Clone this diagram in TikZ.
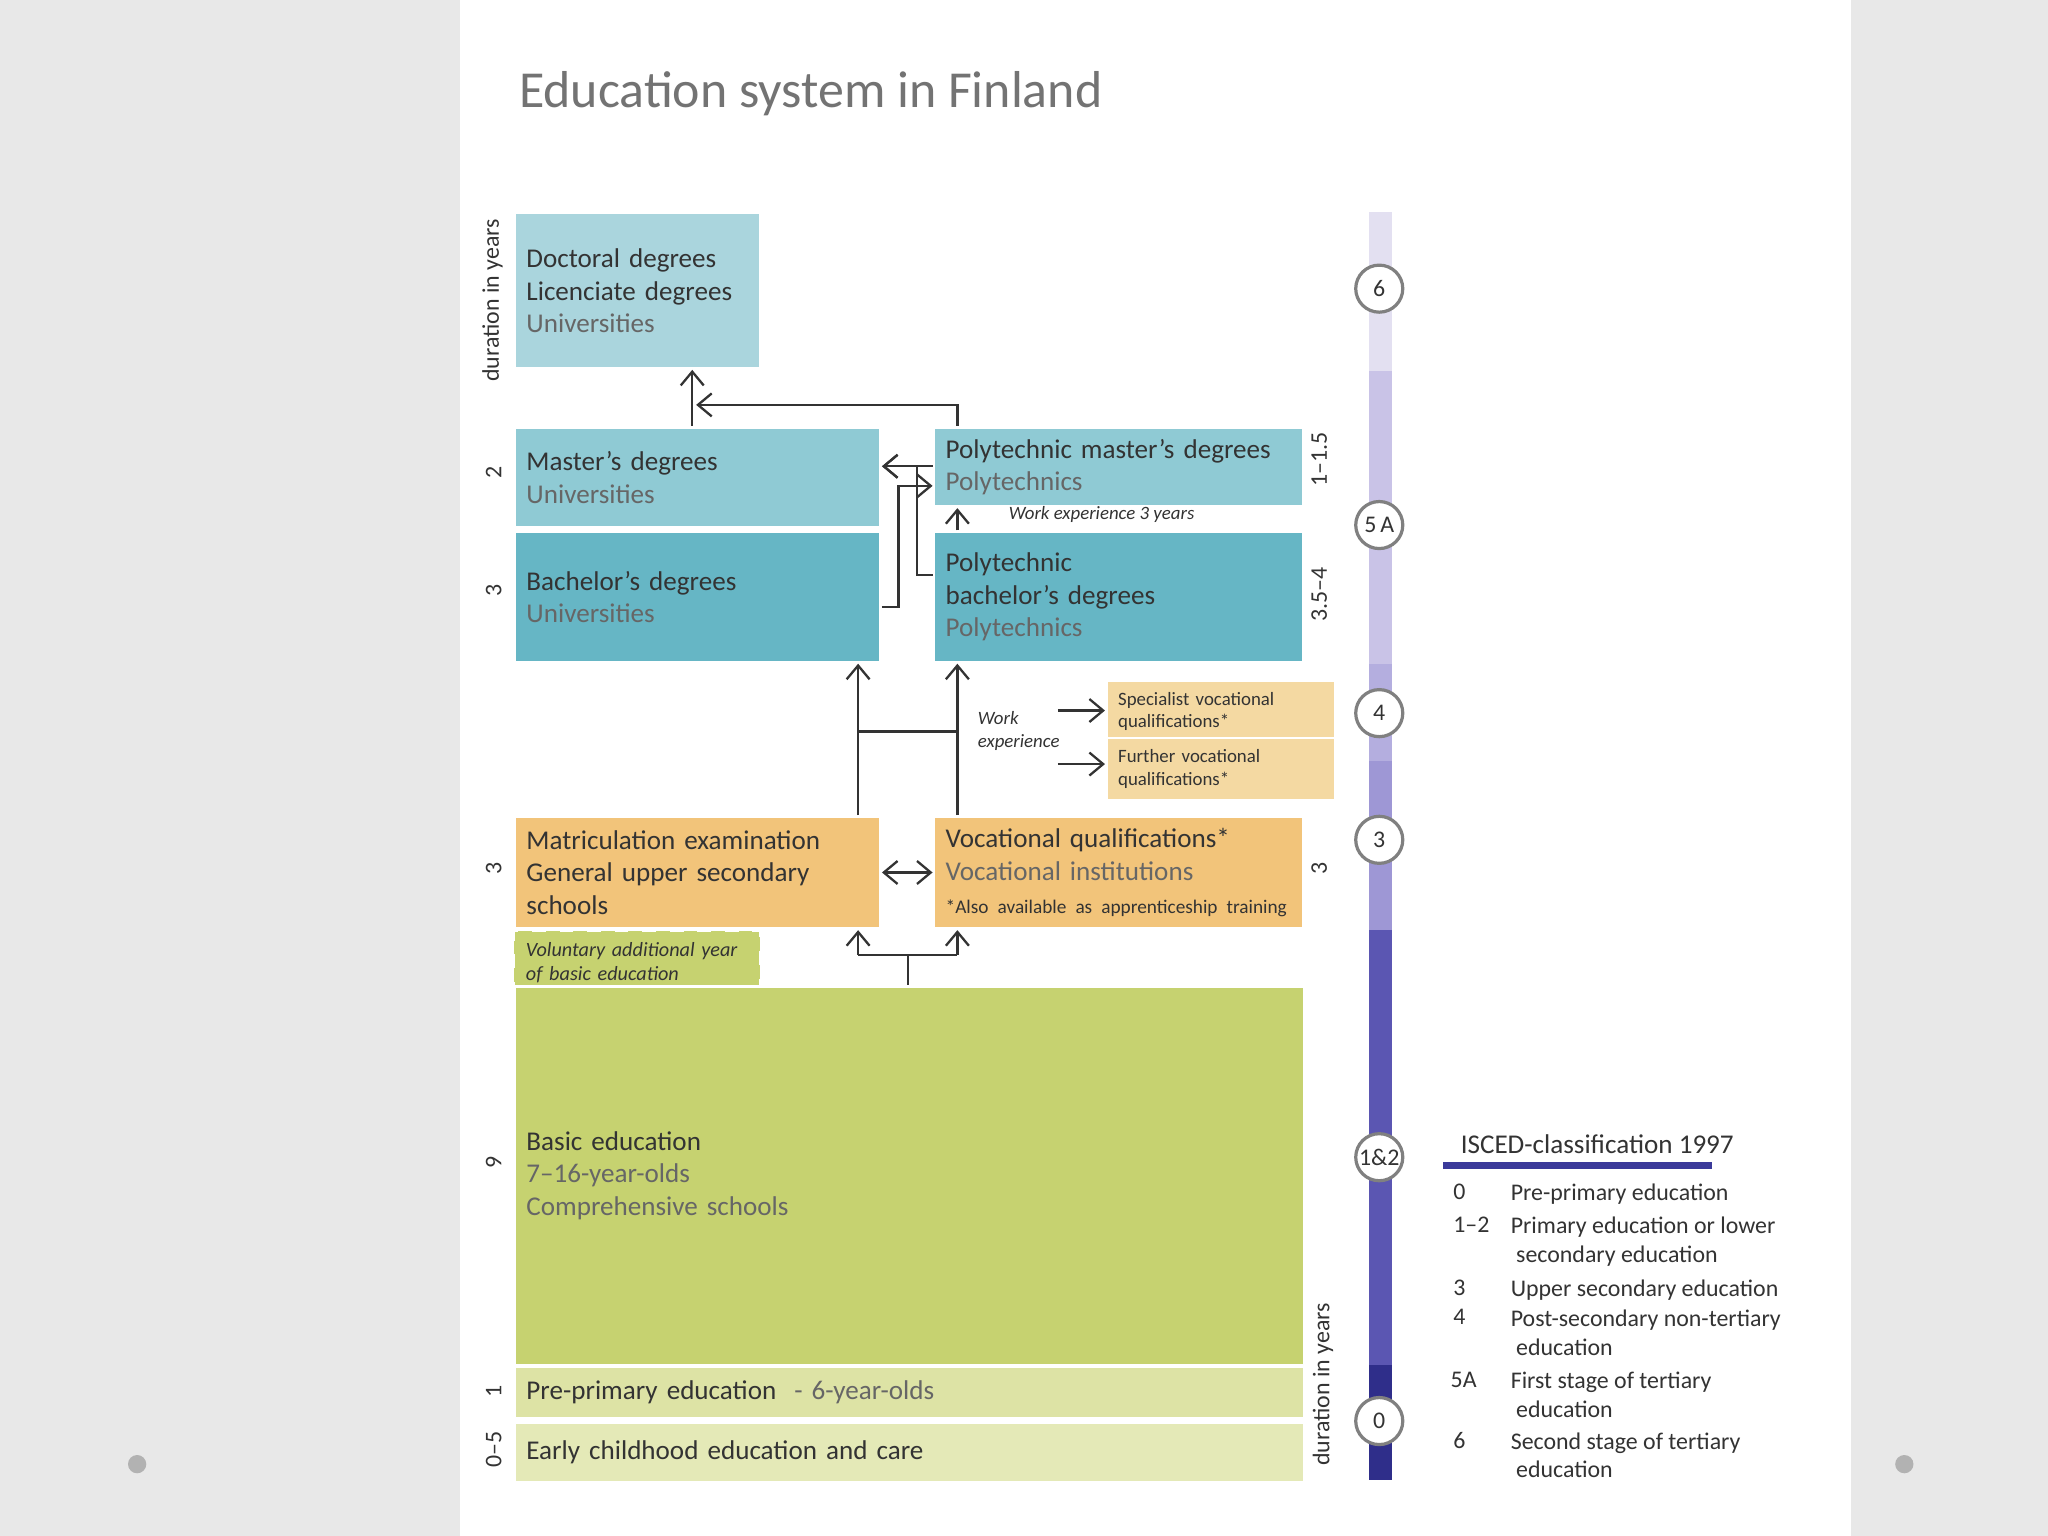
\documentclass[tikz,border=0pt]{standalone}
\usepackage{fontspec}
\setmainfont{Carlito}
\usetikzlibrary{positioning,arrows.meta}
\definecolor{teallt}{HTML}{AAD5DD}
\definecolor{tealmd}{HTML}{8FCAD4}
\definecolor{tealdk}{HTML}{66B6C5}
\definecolor{orng}{HTML}{F2C47A}
\definecolor{orlt}{HTML}{F4D9A2}
\definecolor{grn}{HTML}{C6D270}
\definecolor{grnlt}{HTML}{DDE3A5}
\definecolor{grnxl}{HTML}{E4E9B7}
\definecolor{txt}{HTML}{333333}
\definecolor{sub}{HTML}{666666}
\definecolor{barA}{HTML}{E3E0F1}
\definecolor{barB}{HTML}{C9C3E7}
\definecolor{barC}{HTML}{B4AEDF}
\definecolor{barD}{HTML}{9E97D5}
\definecolor{barE}{HTML}{5B56B2}
\definecolor{barF}{HTML}{2F2E8A}
\definecolor{rule}{HTML}{3B3A9A}
\tikzset{
  stage/.style={draw=white, line width=0.6pt, anchor=north west, inner sep=0.09cm,
    align=left, font=\fontsize{5.9}{7.1}\selectfont, text=txt},
  small/.style={stage, font=\fontsize{4.1}{4.9}\selectfont},
  yrs/.style={rotate=90, font=\fontsize{5.2}{6}\selectfont, text=txt},
  isced/.style={circle, draw=gray, fill=white, line width=0.7pt, minimum size=0.36cm,
    inner sep=0pt, font=\fontsize{5.2}{6}\selectfont, text=txt},
  flow/.style={-{Straight Barb[length=3pt,width=5pt]}, line width=0.5pt, txt},
  note/.style={font=\itshape\fontsize{4.1}{5}\selectfont, text=txt, align=left}
}
\newcommand{\inst}[1]{\textcolor{sub}{#1}}
\begin{document}
\begin{tikzpicture}[x=0.01cm,y=-0.01cm]
\useasboundingbox (0,0) rectangle (1568,1176);
\fill[gray!18] (0,0) rectangle (1568,1176);
\fill[white] (352,0) rectangle (1417,1176);
\fill[gray!60] (105,1121) circle (7) (1458,1121) circle (7);
\node[anchor=west, text=gray!90!black, font=\fontsize{11.3}{13}\selectfont] (title) at (385,72) {Education system in Finland};
% boxes
\node[stage, fill=teallt, minimum width=1.88cm, minimum height=1.19cm, text width=1.7cm] (doct) at (393,162) {Doctoral degrees\\Licenciate degrees\\\inst{Universities}};
\node[stage, fill=tealmd, minimum width=2.8cm, minimum height=0.77cm, text width=2.62cm] (mast) at (393,326) {Master's degrees\\\inst{Universities}};
\node[stage, fill=tealdk, minimum width=2.8cm, minimum height=1.0cm, text width=2.62cm] (bach) at (393,406) {Bachelor's degrees\\\inst{Universities}};
\node[stage, fill=tealmd, minimum width=2.83cm, minimum height=0.56cm, text width=2.65cm] (pmast) at (714,326) {Polytechnic master's degrees\\\inst{Polytechnics}};
\node[stage, fill=tealdk, minimum width=2.83cm, minimum height=1.0cm, text width=2.65cm] (pbach) at (714,406) {Polytechnic\\bachelor's degrees\\\inst{Polytechnics}};
\node[small, fill=orlt, minimum width=1.75cm, minimum height=0.44cm, text width=1.57cm] (spec) at (846,520) {Specialist vocational\\qualifications*};
\node[small, fill=orlt, minimum width=1.75cm, minimum height=0.43cm, text width=1.57cm] (furt) at (846,564) {Further vocational\\qualifications*};
\node[stage, fill=orng, minimum width=2.8cm, minimum height=0.86cm, text width=2.62cm] (matr) at (393,624) {Matriculation examination\\General upper secondary\\schools};
\node[stage, fill=orng, minimum width=2.83cm, minimum height=0.86cm, text width=2.65cm] (voc) at (714,624) {Vocational qualifications*\\\inst{Vocational institutions}\\\mbox{\fontsize{4.2}{5}\selectfont *Also available as apprenticeship training}};
\node[stage, fill=grn, draw=white, dashed, line width=0.4pt, minimum width=1.87cm, minimum height=0.4cm, text width=1.7cm, font=\itshape\fontsize{4.4}{5.2}\selectfont] (vol) at (393,712) {Voluntary additional year\\of basic education};
\node[stage, fill=grn, minimum width=6.04cm, minimum height=2.9cm, text width=5.86cm] (basic) at (393,754) {Basic education\\\inst{7--16-year-olds}\\\inst{Comprehensive schools}};
\node[stage, fill=grnlt, minimum width=6.04cm, minimum height=0.4cm, text width=5.86cm] (pre) at (393,1045) {Pre-primary education \ \inst{- 6-year-olds}};
\node[stage, fill=grnxl, minimum width=6.04cm, minimum height=0.46cm, text width=5.86cm] (early) at (393,1088) {Early childhood education and care};
% durations
\node[yrs] (dl) at (377,230) {duration in years};
\node[yrs] at (378,362) {2};
\node[yrs] at (378,452) {3};
\node[yrs] at (378,665) {3};
\node[yrs] at (378,890) {9};
\node[yrs] at (378,1065) {1};
\node[yrs] at (378,1110) {0--5};
\node[yrs] at (1010,352) {1--1.5};
\node[yrs] at (1010,455) {3.5--4};
\node[yrs] at (1010,665) {3};
\node[yrs] (dr) at (1013,1060) {duration in years};
% isced bar
\fill[barA] (1048,162) rectangle (1066,284);
\fill[barB] (1048,284) rectangle (1066,508);
\fill[barC] (1048,508) rectangle (1066,583);
\fill[barD] (1048,583) rectangle (1066,712);
\fill[barE] (1048,712) rectangle (1066,1045);
\fill[barF] (1048,1045) rectangle (1066,1133);
\node[isced] (i6) at (1056,221) {6};
\node[isced] (i5) at (1056,402) {5\,A};
\node[isced] (i4) at (1056,546) {4};
\node[isced] (i3) at (1056,643) {3};
\node[isced] (i12) at (1056,886) {1\&2};
\node[isced] (i0) at (1056,1088) {0};
% connectors
\draw[flow] (mast.north -| 530,0) -- (doct.south -| 530,0);
\draw[flow] (pmast.north -| 733,0) |- (533,310);
\draw[flow] (pmast.west |- 0,357) -- (mast.east |- 0,357);
\draw[flow] (bach.east |- 0,465) -| (688,372) -- (pmast.west |- 0,372);
\draw[flow] (pbach.west |- 0,440) -| (702,357) -- (mast.east |- 0,357);
\draw[flow] (pbach.north -| 733,0) -- (pmast.south -| 733,0);
\node[note, anchor=west] (wexp3) at (760,394) {Work experience 3 years};
\draw[flow] (matr.north -| 657,0) -- (bach.south -| 657,0);
\draw[flow] (voc.north -| 733,0) -- (pbach.south -| 733,0);
\draw[txt, line width=0.5pt] (657,560) -- (733,560);
\node[note] (wexp) at (780,560) {Work\\experience};
\draw[flow] (810,544) -- (spec.west |- 0,544);
\draw[flow] (810,585) -- (furt.west |- 0,585);
\draw[flow,{Straight Barb[length=3pt,width=5pt]}-{Straight Barb[length=3pt,width=5pt]}] (matr.east |- 0,668) -- (voc.west |- 0,668);
\draw[txt, line width=0.5pt] (basic.north -| 695,0) -- (695,731) (657,731) -- (733,731);
\draw[flow] (657,731) -- (matr.south -| 657,0);
\draw[flow] (733,731) -- (voc.south -| 733,0);
% legend
\node[anchor=west, font=\fontsize{5.9}{7}\selectfont, text=txt] (lt) at (1106,876) {ISCED-classification 1997};
\draw[rule, line width=1.5pt] (1105,892) -- (1311,892);
\begin{scope}[every node/.style={anchor=north west, font=\fontsize{5.2}{6.3}\selectfont, text=txt, align=left, inner sep=0pt}]
\node (k0) at (1112,906) {0}; \node (e0) at (1156,906) {Pre-primary education};
\node (k1) at (1112,931) {1--2}; \node (e1) at (1156,931) {Primary education or lower\\\ secondary education};
\node (k3) at (1112,979) {3}; \node (e3) at (1156,979) {Upper secondary education};
\node (k4) at (1112,1002) {4}; \node (e4) at (1156,1002) {Post-secondary non-tertiary\\\ education};
\node (k5) at (1110,1050) {5A}; \node (e5) at (1156,1050) {First stage of tertiary\\\ education};
\node (k6) at (1112,1096) {6}; \node (e6) at (1156,1096) {Second stage of tertiary\\\ education};
\end{scope}
\end{tikzpicture}
\end{document}
